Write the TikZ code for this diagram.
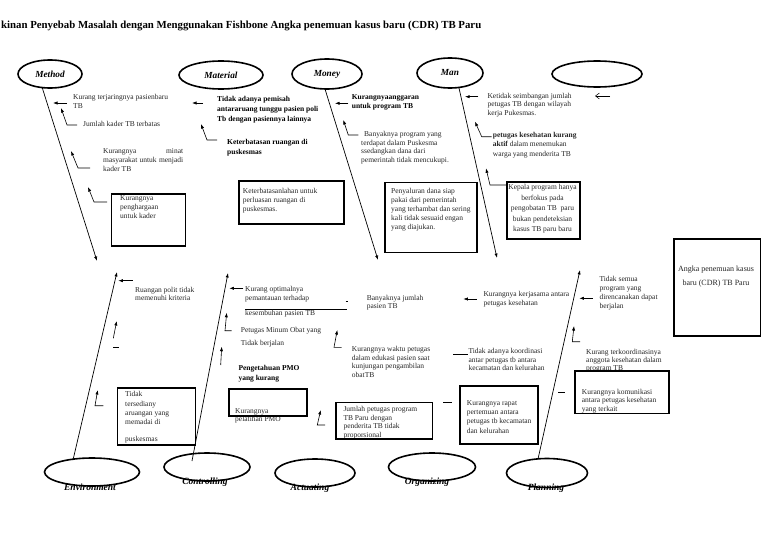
\documentclass[tikz,border=0pt]{standalone}
\usepackage{fontspec}
\setmainfont{Liberation Serif}
\usepackage{tikz}
\usetikzlibrary{
    arrows.meta,
    positioning,
    shapes.geometric,
    calc
}
\newcommand{\causefont}{\fontsize{7.5}{9}\selectfont}
\newcommand{\boldcausefont}{\fontsize{7.5}{10}\selectfont\bfseries}
\newcommand{\catfont}{\fontsize{9.3}{10}\selectfont\bfseries\itshape}

\begin{document}
\begin{tikzpicture}[
    x=1pt,
    y=-1pt,
    >={Latex[length=4.5pt,width=3.2pt]},
    every node/.style={inner sep=0pt},
    txt/.style={font=\causefont, text=black!85, align=left, anchor=north west},
    boldtxt/.style={font=\boldcausefont, align=left, anchor=north west},
    catnode/.style={ellipse, draw, line width=1.6pt, font=\catfont},
    catlabel/.style={font=\fontsize{9.5}{10}\selectfont\bfseries\itshape},
    causebox/.style={draw, line width=1.5pt, anchor=north west},
    spine/.style={->, line width=0.7pt},
    cause/.style={->, line width=0.6pt},
    stub/.style={line width=0.6pt}
]

% page
\fill[white] (0,0) rectangle (768,543);
\useasboundingbox (0,0) rectangle (768,543);

% =============================================================
% Title
% =============================================================
\node[
    font=\fontsize{10.8}{12}\selectfont\bfseries,
    anchor=west
] (title) at (1,26)
{kinan Penyebab  Masalah dengan Menggunakan Fishbone Angka penemuan kasus baru (CDR) TB Paru};

% =============================================================
% Category ellipses
% =============================================================
\node[catnode, minimum width=64pt, minimum height=28pt] (method) at (50,74) {Method};
\node[catnode, minimum width=84pt, minimum height=28pt] (material) at (221,75) {Material};
\node[catnode, minimum width=70pt, minimum height=30pt] (money) at (327,74) {Money};
\node[catnode, minimum width=66pt, minimum height=30pt] (man) at (450,73) {Man};
\node[catnode, minimum width=90pt, minimum height=26pt] (blank) at (597,74) {};

\node[catnode, minimum width=95pt, minimum height=28pt] (environment) at (92,472) {};
\node[catnode, minimum width=86pt, minimum height=28pt] (controlling) at (207,467) {};
\node[catnode, minimum width=80pt, minimum height=28pt] (actuating) at (315,473) {};
\node[catnode, minimum width=87pt, minimum height=28pt] (organizing) at (432,467) {};
\node[catnode, minimum width=81pt, minimum height=29pt] (planning) at (547,473) {};

\node[catlabel] (environmentLbl) at (90,487) {Environment};
\node[catlabel] (controllingLbl) at (205,482) {Controlling};
\node[catlabel] (actuatingLbl) at (310,488) {Actuating};
\node[catlabel] (organizingLbl) at (427,482) {Organizing};
\node[catlabel] (planningLbl) at (546,488) {Planning};

% =============================================================
% Spines
% =============================================================
\coordinate (methodFoot) at (42,87);
\coordinate (methodTip) at (97,261);
\coordinate (moneyFoot) at (325,89);
\coordinate (moneyTip) at (378,260);
\coordinate (manFoot) at (459,88);
\coordinate (manTip) at (497,258);
\coordinate (envFoot) at (73,460);
\coordinate (envTip) at (117,272);
\coordinate (ctrlFoot) at (192,461);
\coordinate (ctrlTip) at (228,273);
\coordinate (planFoot) at (538,459);
\coordinate (planTip) at (580,270);

\draw[spine] (methodFoot) -- (methodTip);
\draw[spine] (moneyFoot) -- (moneyTip);
\draw[spine] (manFoot) -- (manTip);
\draw[spine] (envFoot) -- (envTip);
\draw[spine] (ctrlFoot) -- (ctrlTip);
\draw[spine] (planFoot) -- (planTip);

% =============================================================
% Method
% =============================================================
\coordinate (mA1) at (67,103);
\coordinate (mA2) at (53,103);
\coordinate (mB1) at (77,125);
\coordinate (mB2) at (67,125);
\coordinate (mB3) at (61,108);
\coordinate (mC1) at (90,168);
\coordinate (mC2) at (78,168);
\coordinate (mC3) at (71,151);
\coordinate (mD1) at (107,202);
\coordinate (mD2) at (94,202);
\coordinate (mD3) at (88,187);

\draw[cause] (mA1) -- (mA2);
\draw[cause] (mB1) -- (mB2) -- (mB3);
\draw[cause] (mC1) -- (mC2) -- (mC3);
\draw[cause] (mD1) -- (mD2) -- (mD3);

\node[txt] (mTxtA) at (73,94.5)
{Kurang terjaringnya pasienbaru\\TB};

\node[txt] (mTxtB) at (83,121.5)
{Jumlah kader TB terbatas};

\node[txt] (mTxtC) at (103,148.5)
{\hbox to 80pt{Kurangnya\hfill minat}\\
 \hbox to 80pt{masyarakat\hfill\ untuk\ \hfill menjadi}\\
 kader TB};

\node[
    causebox,
    minimum width=74pt,
    minimum height=52pt
] (methodBox) at (110.7,193.3) {};

\node[txt] (mTxtD) at (120,195.5)
{Kurangnya\\penghargaan\\untuk kader};

% =============================================================
% Material
% =============================================================
\coordinate (tA1) at (203,103);
\coordinate (tA2) at (192,103);
\coordinate (tB1) at (217,140);
\coordinate (tB2) at (207,140);
\coordinate (tB3) at (201,124);

\draw[cause] (tA1) -- (tA2);
\draw[cause] (tB1) -- (tB2) -- (tB3);

\node[boldtxt] (tTxtA) at (217,96.5)
{Tidak adanya pemisah\\antararuang tunggu pasien poli\\Tb dengan pasiennya lainnya};

\node[boldtxt] (tTxtB) at (227,139.5)
{Keterbatasan ruangan di\\puskesmas};

\node[
    causebox,
    minimum width=105pt,
    minimum height=43pt
] (materialBox) at (238.3,180) {};

\node[txt] (tTxtC) at (242.7,188)
{Keterbatasanlahan untuk\\perluasan ruangan di\\puskesmas.};

% =============================================================
% Money
% =============================================================
\coordinate (nA1) at (348.3,103.3);
\coordinate (nA2) at (335,103.3);
\coordinate (nB1) at (358.3,135);
\coordinate (nB2) at (348.3,135);
\coordinate (nB3) at (343.3,120);

\draw[cause] (nA1) -- (nA2);
\draw[cause] (nB1) -- (nB2) -- (nB3);

\node[boldtxt, font=\fontsize{7.5}{9}\selectfont\bfseries] (nTxtA) at (351.7,94)
{Kurangnyaanggaran\\untuk program TB};

\node[txt, font=\fontsize{7.5}{8.5}\selectfont] (nTxtB) at (361,131.5)
{\hspace{3pt}Banyaknya program yang\\terdapat dalam Puskesma\\ssedangkan dana dari\\pemerintah tidak mencukupi.};

\node[
    causebox,
    minimum width=92pt,
    minimum height=70pt
] (moneyBox) at (384,181.7) {};

\node[txt] (nTxtC) at (391,188)
{Penyaluran dana siap\\pakai dari pemerintah\\yang terhambat dan sering\\kali tidak sesuaid engan\\yang diajukan.};

% =============================================================
% Man
% =============================================================
\coordinate (aA1) at (478.3,96.7);
\coordinate (aA2) at (465,96.7);
\coordinate (aB1) at (491.7,136.7);
\coordinate (aB2) at (481.7,136.7);
\coordinate (aB3) at (475,121.7);
\coordinate (aC1) at (506.7,185);
\coordinate (aC2) at (490,185);
\coordinate (aC3) at (486,168.3);

\draw[cause] (aA1) -- (aA2);
\draw[cause] (aB1) -- (aB2) -- (aB3);
\draw[cause] (aC1) -- (aC2) -- (aC3);

\node[txt, font=\fontsize{7.5}{8.5}\selectfont] (aTxtA) at (487.3,93)
{Ketidak seimbangan jumlah\\petugas TB dengan wilayah\\kerja Pukesmas.};

\node[txt, font=\fontsize{7.5}{9.3}\selectfont] (aTxtB) at (492.7,132)
{{\bfseries petugas kesehatan kurang}\\{\bfseries aktif} dalam menemukan\\warga yang menderita TB};

\node[
    causebox,
    minimum width=73pt,
    minimum height=57pt
] (manBox) at (506,181) {};

\node[
    txt,
    font=\fontsize{7.5}{10.4}\selectfont,
    align=center,
    anchor=north
] (aTxtC) at (542.5,184.5)
{Kepala program hanya\\berfokus pada\\pengobatan TB\ \ paru\\bukan pendeteksian\\kasus TB paru baru};

% =============================================================
% Effect
% =============================================================
\coordinate (rA1) at (610,96);
\coordinate (rA2) at (595,96);
\draw[-{Straight Barb[length=4pt,width=6pt]}, line width=0.5pt] (rA1) -- (rA2);

\node[
    causebox,
    minimum width=86.5pt,
    minimum height=97pt
] (effectBox) at (673,238) {};

\node[
    font=\fontsize{8}{14}\selectfont,
    text=black!85,
    align=center
] (effectTxt) at (716,277)
{Angka penemuan kasus\\baru (CDR) TB Paru};

% =============================================================
% Environment
% =============================================================
\coordinate (eA1) at (132.7,280.7);
\coordinate (eA2) at (118.3,280.7);
\coordinate (eB1) at (113.3,338.3);
\coordinate (eB2) at (116.7,321);
\coordinate (eC1) at (113.3,347.3);
\coordinate (eC2) at (119.3,347.3);
\coordinate (eD1) at (103.3,405.7);
\coordinate (eD2) at (95,405.7);
\coordinate (eD3) at (97.7,390);

\draw[cause] (eA1) -- (eA2);
\draw[cause] (eB1) -- (eB2);
\draw[stub] (eC1) -- (eC2);
\draw[cause] (eD1) -- (eD2) -- (eD3);

\node[txt, font=\fontsize{7.5}{8}\selectfont] (eTxtA) at (135,287)
{Ruangan polit tidak\\memenuhi kriteria};

\node[
    causebox,
    minimum width=78pt,
    minimum height=57pt
] (envBox) at (116.7,387.3) {};

\node[txt, font=\fontsize{7.5}{9.3}\selectfont] (eTxtB) at (125,391.5)
{Tidak\\tersediany\\aruangan yang\\memadai di\\[7pt]puskesmas};

% =============================================================
% Controlling
% =============================================================
\coordinate (cA1) at (243.3,288.3);
\coordinate (cA2) at (229.3,288.3);
\coordinate (cB1) at (231.7,330.7);
\coordinate (cB2) at (225,330.7);
\coordinate (cB3) at (226.7,312.7);
\coordinate (cC1) at (220.7,365);
\coordinate (cC2) at (221.7,346.7);
\coordinate (cLineA) at (245,309.3);
\coordinate (cLineB) at (346.7,309.3);
\coordinate (cDotA) at (345.5,301.7);
\coordinate (cDotB) at (348,301.7);

\draw[cause] (cA1) -- (cA2);
\draw[cause] (cB1) -- (cB2) -- (cB3);
\draw[cause] (cC1) -- (cC2);
\draw[stub] (cLineA) -- (cLineB);
\draw[line width=1pt] (cDotA) -- (cDotB);

\node[txt, font=\fontsize{7.5}{8.3}\selectfont] (cTxtA) at (245,286.5)
{Kurang optimalnya\\pemantauan terhadap};

\node[txt] (cTxtB) at (245,310)
{kesembuhan pasien TB};

\node[txt, font=\fontsize{7.5}{12.6}\selectfont] (cTxtC) at (240.7,327.2)
{Petugas Minum Obat yang\\Tidak berjalan};

\node[boldtxt] (cTxtD) at (238.3,364.8)
{Pengetahuan PMO\\yang kurang};

\node[txt, font=\fontsize{7.5}{8.5}\selectfont] (cTxtE) at (235,408)
{Kurangnya\\pelatihan PMO};

\node[
    causebox,
    minimum width=78pt,
    minimum height=27pt
] (ctrlBox) at (228.3,388.3) {};

% =============================================================
% Actuating
% =============================================================
\coordinate (uA1) at (341.7,347.3);
\coordinate (uA2) at (334,347.3);
\coordinate (uA3) at (337.3,330);
\coordinate (uB1) at (325,425);
\coordinate (uB2) at (317.3,425);
\coordinate (uB3) at (320.7,410);

\draw[cause] (uA1) -- (uA2) -- (uA3);
\draw[cause] (uB1) -- (uB2) -- (uB3);

\node[txt, font=\fontsize{7.5}{8.4}\selectfont] (uTxtA) at (366.7,295)
{Banyaknya jumlah\\pasien TB};

\node[txt, font=\fontsize{7.5}{8.4}\selectfont] (uTxtB) at (351.7,346.5)
{Kurangnya waktu petugas\\dalam edukasi pasien saat\\kunjungan pengambilan\\obatTB};

\node[txt, font=\fontsize{7.5}{8.4}\selectfont] (uTxtC) at (343.3,406.5)
{Jumlah petugas program\\TB Paru dengan\\penderita TB tidak\\proporsional};

\node[
    causebox,
    minimum width=96.7pt,
    minimum height=36.6pt
] (actBox) at (335,401.7) {};

% =============================================================
% Organizing
% =============================================================
\coordinate (oA1) at (476.7,299);
\coordinate (oA2) at (463.3,299);
\coordinate (oLineA) at (453.3,354.3);
\coordinate (oLineB) at (468.3,354.3);
\coordinate (oDashA) at (443.3,402.7);
\coordinate (oDashB) at (451.7,402.7);

\draw[cause] (oA1) -- (oA2);
\draw[stub] (oLineA) -- (oLineB);
\draw[stub] (oDashA) -- (oDashB);

\node[txt, font=\fontsize{7.5}{8.4}\selectfont] (oTxtA) at (483.3,291.5)
{Kurangnya kerjasama antara\\petugas kesehatan};

\node[txt, font=\fontsize{7.5}{8.7}\selectfont] (oTxtB) at (468.3,348)
{Tidak adanya koordinasi\\antar petugas tb antara\\kecamatan dan kelurahan};

\node[
    causebox,
    minimum width=78pt,
    minimum height=58.3pt
] (orgBox) at (459.3,385) {};

\node[txt, font=\fontsize{7.5}{9.4}\selectfont] (oTxtC) at (466.7,400)
{Kurangnya rapat\\pertemuan antara\\petugas tb kecamatan\\dan kelurahan};

% =============================================================
% Planning
% =============================================================
\coordinate (pA1) at (592.7,298.3);
\coordinate (pA2) at (579.3,298.3);
\coordinate (pB1) at (580,341.7);
\coordinate (pB2) at (572.3,341.7);
\coordinate (pB3) at (574,326);
\coordinate (pDashA) at (558.3,392.7);
\coordinate (pDashB) at (565,392.7);

\draw[cause] (pA1) -- (pA2);
\draw[cause] (pB1) -- (pB2) -- (pB3);
\draw[stub] (pDashA) -- (pDashB);

\node[txt, font=\fontsize{7.5}{8.7}\selectfont] (pTxtA) at (599.3,276.5)
{Tidak semua\\program yang\\direncanakan dapat\\berjalan};

\node[txt, font=\fontsize{7.5}{7.8}\selectfont] (pTxtB) at (586,349)
{Kurang terkoordinasinya\\anggota kesehatan dalam\\program TB};

\node[
    causebox,
    minimum width=94.3pt,
    minimum height=42.7pt
] (planBox) at (574,370) {};

\node[txt, font=\fontsize{7.5}{8.3}\selectfont] (pTxtC) at (581.7,389)
{Kurangnya komunikasi\\antara petugas kesehatan\\yang terkait};

\end{tikzpicture}
\end{document}
